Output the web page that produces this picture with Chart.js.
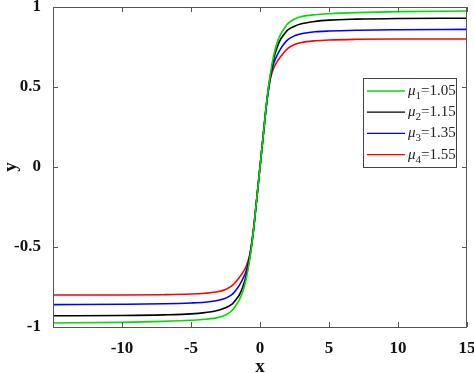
<!DOCTYPE html>
<html>
<head>
<meta charset="utf-8">
<script src="https://cdn.jsdelivr.net/npm/chart.js@4.4.1/dist/chart.umd.min.js"></script>
<style>
    html, body { margin: 0; padding: 0; background: #fff; }
</style>
</head>
<body>
<canvas id="grafico" width="474" height="373"></canvas>
<script>
// valores
const xValues = [-15, -10, -7, -5, -4, -3, -2.5, -2, -1.75, -1.5, -1.25, -1, -0.75, -0.5, -0.25, 0,
    0.25, 0.5, 0.75, 1, 1.25, 1.5, 1.75, 2, 2.5, 3, 4, 5, 7, 10, 15];

const mu1 = [-0.975, -0.971, -0.965, -0.958, -0.952, -0.94, -0.925, -0.895, -0.865, -0.83, -0.78, -0.70, -0.58, -0.42, -0.21, 0,
    0.21, 0.42, 0.58, 0.70, 0.78, 0.83, 0.865, 0.895, 0.925, 0.94, 0.952, 0.958, 0.965, 0.971, 0.975];
const mu2 = [-0.93, -0.928, -0.924, -0.918, -0.91, -0.895, -0.88, -0.855, -0.83, -0.80, -0.75, -0.68, -0.57, -0.42, -0.21, 0,
    0.21, 0.42, 0.57, 0.68, 0.75, 0.80, 0.83, 0.855, 0.88, 0.895, 0.91, 0.918, 0.924, 0.928, 0.93];
const mu3 = [-0.86, -0.858, -0.855, -0.85, -0.845, -0.833, -0.82, -0.795, -0.77, -0.74, -0.70, -0.65, -0.56, -0.41, -0.21, 0,
    0.21, 0.41, 0.56, 0.65, 0.70, 0.74, 0.77, 0.795, 0.82, 0.833, 0.845, 0.85, 0.855, 0.858, 0.86];
const mu4 = [-0.80, -0.80, -0.798, -0.794, -0.789, -0.778, -0.765, -0.74, -0.717, -0.69, -0.66, -0.62, -0.55, -0.41, -0.21, 0,
    0.21, 0.41, 0.55, 0.62, 0.66, 0.69, 0.717, 0.74, 0.765, 0.778, 0.789, 0.794, 0.798, 0.80, 0.80];

const seriesNames = ["1", "2", "3", "4"];
const seriesValues = ["1.05", "1.15", "1.35", "1.55"];
const seriesColors = ["#00dd00", "#000000", "#0000ff", "#ff0000"];

const xTicks = [-15, -10, -5, 0, 5, 10, 15];
const yTicks = [-1, -0.5, 0, 0.5, 1];

const fonte = "'Liberation Serif', 'Times New Roman', serif";

function pontos(ys) {
    return xValues.map((x, i) => ({ x: x, y: ys[i] }));
}

// moldura, marcas internas e legenda com subscrito
const molduraPlugin = {
    id: "moldura",
    afterDraw(chart) {
        const ctx = chart.ctx;
        const a = chart.chartArea;
        const sx = chart.scales.x;
        const sy = chart.scales.y;
        ctx.save();
        ctx.strokeStyle = "#555";
        ctx.lineWidth = 1;
        ctx.beginPath();
        xTicks.forEach((v) => {
            const px = Math.round(sx.getPixelForValue(v)) + 0.5;
            ctx.moveTo(px, a.bottom); ctx.lineTo(px, a.bottom - 5);
            ctx.moveTo(px, a.top); ctx.lineTo(px, a.top + 5);
        });
        yTicks.forEach((v) => {
            const py = Math.round(sy.getPixelForValue(v)) + 0.5;
            ctx.moveTo(a.left, py); ctx.lineTo(a.left + 5, py);
            ctx.moveTo(a.right, py); ctx.lineTo(a.right - 5, py);
        });
        ctx.stroke();
        ctx.strokeRect(a.left + 0.5, a.top + 0.5, a.right - a.left - 1, a.bottom - a.top);

        // legenda
        const lx = a.right - 104;
        const ly = a.top + 71;
        ctx.fillStyle = "#fff";
        ctx.fillRect(lx, ly, 93, 89);
        ctx.strokeStyle = "#444";
        ctx.strokeRect(lx + 0.5, ly + 0.5, 93, 89);
        seriesNames.forEach((n, i) => {
            const yy = ly + 13 + i * 21.2;
            ctx.strokeStyle = seriesColors[i];
            ctx.lineWidth = 1.3;
            ctx.beginPath();
            ctx.moveTo(lx + 4, yy); ctx.lineTo(lx + 42, yy);
            ctx.stroke();
            ctx.fillStyle = "#222";
            ctx.textBaseline = "alphabetic";
            ctx.textAlign = "left";
            let tx = lx + 45;
            ctx.font = "italic 15px " + fonte;
            ctx.fillText("\u03bc", tx, yy + 4);
            tx += ctx.measureText("\u03bc").width;
            ctx.font = "11px " + fonte;
            ctx.fillText(n, tx, yy + 8);
            tx += ctx.measureText(n).width;
            ctx.font = "15px " + fonte;
            ctx.fillText("=" + seriesValues[i], tx, yy + 4);
        });
        ctx.restore();
    },
};

const data = {
    datasets: seriesNames.map((n, i) => ({
        label: "\u03bc" + n + "=" + seriesValues[i],
        data: pontos([mu1, mu2, mu3, mu4][i]),
        borderColor: seriesColors[i],
        borderWidth: 1.6,
        pointRadius: 0,
        cubicInterpolationMode: "monotone",
        fill: false,
    })),
};

const options = {
    responsive: false,
    animation: false,
    layout: { padding: { top: 7, right: 7, left: 0, bottom: 0 } },
    plugins: {
        legend: { display: false },
        tooltip: { enabled: false },
    },
    scales: {
        x: {
            type: "linear",
            min: -15,
            max: 15,
            afterBuildTicks: (s) => { s.ticks = xTicks.map((v) => ({ value: v })); },
            afterFit: (s) => { s.height = 46; s.paddingLeft = 0; s.paddingRight = 0; },
            grid: { display: false },
            border: { display: false },
            ticks: {
                color: "#111",
                padding: 3,
                maxRotation: 0,
                autoSkip: false,
                font: { family: fonte, size: 17, weight: "bold" },
                callback: (v) => (v === -15 ? "" : String(v)),
            },
            title: {
                display: true,
                text: "x",
                color: "#111",
                padding: { top: 0, bottom: -5 },
                font: { family: fonte, size: 19, weight: "bold" },
            },
        },
        y: {
            min: -1,
            max: 1,
            afterBuildTicks: (s) => { s.ticks = yTicks.map((v) => ({ value: v })); },
            afterFit: (s) => { s.width = 53; s.paddingTop = 0; s.paddingBottom = 0; },
            grid: { display: false },
            border: { display: false },
            ticks: {
                color: "#111",
                padding: 4,
                autoSkip: false,
                font: { family: fonte, size: 17, weight: "bold" },
                callback: (v) => String(v),
            },
            title: {
                display: true,
                text: "y",
                color: "#111",
                padding: { top: 0, bottom: 0 },
                font: { family: fonte, size: 19, weight: "bold" },
            },
        },
    },
};

new Chart(document.getElementById("grafico"), {
    type: "line",
    data: data,
    options: options,
    plugins: [molduraPlugin],
});
</script>
</body>
</html>
